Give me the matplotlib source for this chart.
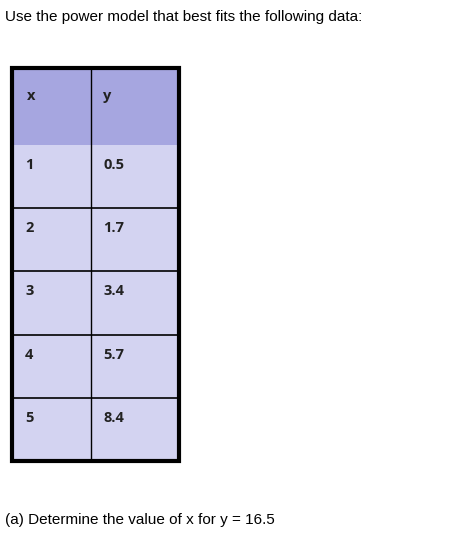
import matplotlib
matplotlib.use('Agg')
import matplotlib.pyplot as plt
from matplotlib.patches import Rectangle

# data from the table
x_vals = ['1', '2', '3', '4', '5']
y_vals = ['0.5', '1.7', '3.4', '5.7', '8.4']
headers = ['x', 'y']

W, H = 454, 549
fig = plt.figure(figsize=(W / 100, H / 100), dpi=100)
ax = fig.add_axes([0, 0, 1, 1])
ax.set_xlim(0, W)
ax.set_ylim(H, 0)
ax.axis('off')

ax.text(5, 17, 'Use the power model that best fits the following data:',
        fontsize=11, family='Liberation Sans', va='center', ha='left')

left, mid, right = 12, 91, 179
top, head_bot, bottom = 68, 145, 461
row_h = (bottom - head_bot) / len(x_vals)

# header en baris
ax.add_patch(Rectangle((left, top), right - left, head_bot - top, color='#a6a6e0', lw=0))
ax.add_patch(Rectangle((left, head_bot), right - left, bottom - head_bot, color='#d3d3f1', lw=0))

txt = dict(fontsize=10.5, family='Open Sans', fontweight='bold', color='#222222', va='center')
ax.text(left + 15, top + 28, headers[0], **txt)
ax.text(mid + 12, top + 28, headers[1], **txt)

for i, (xv, yv) in enumerate(zip(x_vals, y_vals)):
    y0 = head_bot + i * row_h
    ax.text(left + 13, y0 + 20, xv, **txt)
    ax.text(mid + 12, y0 + 20, yv, **txt)
    if i > 0:
        ax.plot([left, right], [y0, y0], color='black', lw=1.2)

ax.plot([mid, mid], [top, bottom], color='black', lw=1.0)
ax.add_patch(Rectangle((left, top), right - left, bottom - top, fill=False,
                       edgecolor='black', lw=3))

ax.text(5, 520, '(a) Determine the value of x for y = 16.5',
        fontsize=11, family='Liberation Sans', va='center', ha='left')

fig.savefig('out.png', dpi=100, facecolor='white')
